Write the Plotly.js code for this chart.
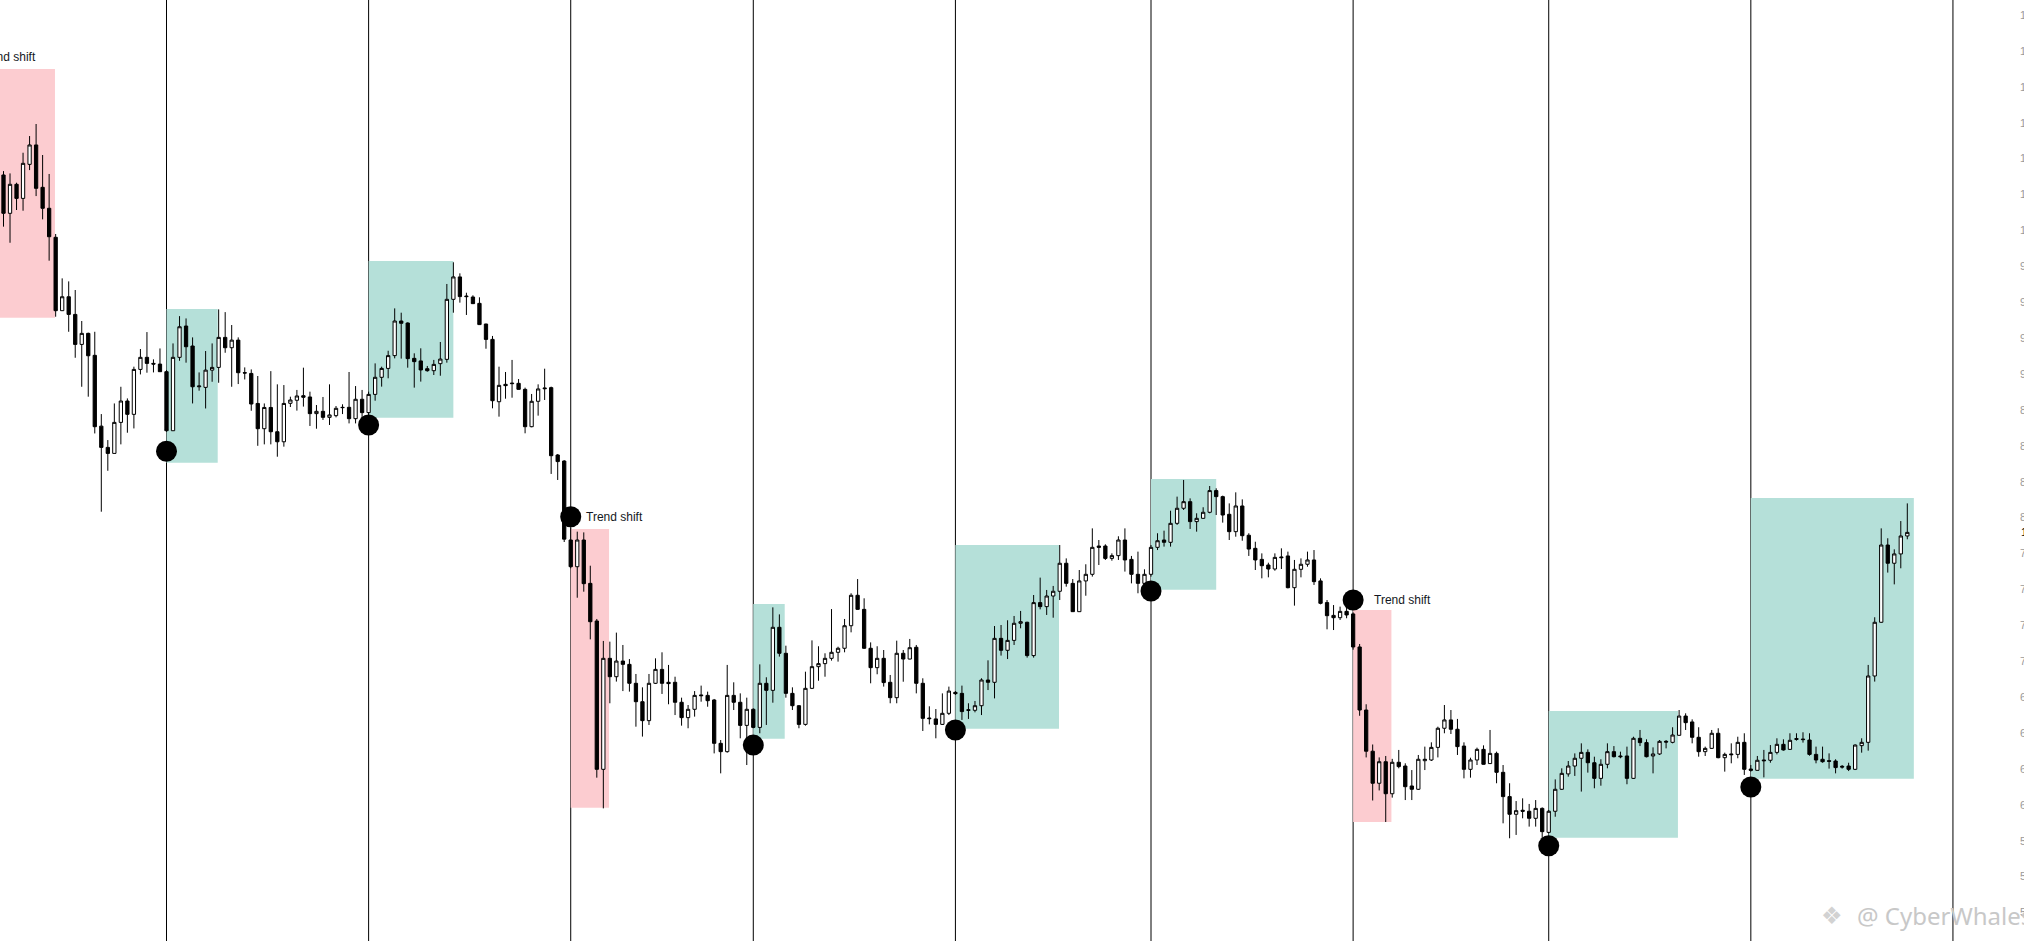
<!DOCTYPE html>
<html>
<head>
<meta charset="utf-8">
<script src="https://cdn.plot.ly/plotly-3.0.1.min.js"></script>
<style>
html,body{margin:0;padding:0;background:#ffffff;overflow:hidden}
#chart{width:2024px;height:941px}
</style>
</head>
<body>
<div id="chart"></div>
<script>
// ---- Daily candles, rows are [open, high, low, close] ----
const nov22 = [ // Nov 6 - Nov 30, 2022
[10.386,10.413,10.026,10.119],[10.119,10.397,9.914,10.321],[10.321,10.332,10.142,10.223],
[10.223,10.541,10.137,10.467],[10.460,10.657,10.420,10.595],[10.595,10.741,10.239,10.293],
[10.300,10.525,10.077,10.154],[10.154,10.393,9.789,9.956],[9.952,9.975,9.399,9.441],
[9.441,9.666,9.441,9.538],[9.538,9.645,9.294,9.415],[9.415,9.585,9.113,9.206],
[9.206,9.369,8.911,9.283],[9.283,9.288,8.842,9.127],[9.130,9.294,8.586,8.633],
[8.637,8.721,8.041,8.489],[8.489,8.540,8.326,8.447],[8.447,8.795,8.447,8.663],
[8.663,8.911,8.510,8.812],[8.812,8.830,8.591,8.719],[8.719,9.051,8.621,9.032],
[9.032,9.174,8.997,9.116],[9.116,9.292,9.009,9.074],[9.074,9.102,9.011,9.069],
[9.069,9.178,9.016,9.016]
];
const dec22 = [
[9.016,9.027,8.598,8.605],[8.605,9.213,8.605,9.116],[9.116,9.403,9.092,9.329],
[9.334,9.387,9.079,9.190],[9.195,9.255,8.795,8.911],[8.911,9.011,8.884,8.916],
[8.907,9.160,8.760,9.027],[9.027,9.213,8.946,9.046],[9.046,9.450,8.939,9.255],
[9.255,9.431,9.148,9.183],[9.183,9.341,8.911,9.236],[9.236,9.255,8.930,9.009],
[9.009,9.046,8.962,9.007],[9.004,9.032,8.744,8.791],[8.795,8.986,8.500,8.619],
[8.619,8.795,8.510,8.767],[8.767,9.020,8.510,8.598],[8.598,8.928,8.424,8.528],
[8.528,8.923,8.494,8.795],[8.796,8.842,8.770,8.819],[8.817,8.889,8.745,8.847],
[8.849,9.044,8.773,8.838],[8.840,8.877,8.638,8.724],[8.724,8.784,8.619,8.740],
[8.740,8.840,8.680,8.698],[8.698,8.928,8.645,8.715],[8.710,8.777,8.698,8.761],
[8.768,8.789,8.721,8.766],[8.768,9.014,8.656,8.689],[8.689,8.916,8.656,8.824],
[8.824,8.889,8.691,8.731]
];
const jan23 = [
[8.731,8.877,8.715,8.858],[8.858,9.074,8.814,8.977],[8.977,9.051,8.912,9.039],
[9.039,9.162,8.970,9.128],[9.128,9.457,9.109,9.369],[9.369,9.427,9.107,9.353],
[9.355,9.360,9.044,9.107],[9.109,9.144,8.905,9.086],[9.091,9.179,8.947,9.028],
[9.037,9.056,9.016,9.023],[9.023,9.098,8.993,9.067],[9.072,9.223,8.988,9.104],
[9.102,9.627,9.079,9.520],[9.520,9.778,9.427,9.676],[9.676,9.701,9.497,9.539],
[9.543,9.566,9.411,9.539],[9.536,9.548,9.487,9.490],[9.492,9.534,9.341,9.344],
[9.348,9.350,9.176,9.241],[9.241,9.265,8.761,8.814],[8.807,9.051,8.703,8.921],
[8.928,9.014,8.828,8.919],[8.937,9.098,8.835,8.933],[8.935,8.965,8.891,8.893],
[8.893,8.905,8.587,8.633],[8.633,8.861,8.629,8.810],[8.810,8.928,8.710,8.896],
[8.903,9.037,8.819,8.898],[8.905,8.912,8.304,8.431],[8.436,8.443,8.262,8.390],
[8.394,8.400,7.830,7.850]
];
const feb23 = [
[7.844,7.925,7.647,7.658],[7.658,7.902,7.442,7.844],[7.844,7.897,7.484,7.540],
[7.542,7.665,7.152,7.275],[7.280,7.294,6.189,6.247],[6.247,7.141,5.975,7.020],
[7.020,7.136,6.707,6.892],[6.892,7.199,6.858,7.001],[7.001,7.113,6.792,6.978],
[6.978,7.015,6.788,6.846],[6.846,6.911,6.544,6.718],[6.718,6.818,6.475,6.586],
[6.586,6.911,6.556,6.846],[6.846,7.020,6.841,6.943],[6.943,7.062,6.772,6.846],
[6.853,6.974,6.700,6.844],[6.853,6.892,6.625,6.714],[6.714,6.746,6.551,6.607],
[6.607,6.695,6.533,6.665],[6.665,6.792,6.614,6.762],[6.765,6.830,6.718,6.760],
[6.762,6.788,6.683,6.725],[6.730,6.737,6.358,6.428],[6.428,6.451,6.219,6.370],
[6.370,6.974,6.363,6.762],[6.762,6.853,6.660,6.714],[6.714,6.776,6.463,6.553],
[6.553,6.746,6.277,6.665]
];
const mar23 = [
[6.665,6.672,6.533,6.539],[6.539,6.978,6.498,6.846],[6.846,6.888,6.556,6.797],
[6.797,7.375,6.711,7.236],[7.236,7.326,7.032,7.055],[7.055,7.108,6.746,6.776],
[6.776,6.818,6.660,6.690],[6.690,6.695,6.533,6.560],[6.560,6.927,6.551,6.811],
[6.811,7.145,6.806,6.962],[6.962,7.104,6.864,6.983],[6.983,7.055,6.892,7.020],
[7.020,7.363,7.004,7.062],[7.062,7.101,6.997,7.090],[7.090,7.294,7.062,7.247],
[7.247,7.473,7.201,7.459],[7.459,7.572,7.357,7.361],[7.361,7.438,7.085,7.090],
[7.090,7.131,6.846,6.955],[6.955,7.104,6.909,7.020],[7.020,7.078,6.823,6.851],
[6.853,6.904,6.707,6.746],[6.746,7.143,6.707,7.055],[7.055,7.078,6.857,7.015],
[7.015,7.155,7.013,7.094],[7.097,7.113,6.776,6.846],[6.846,6.881,6.514,6.602],
[6.604,6.686,6.560,6.600],[6.598,6.667,6.463,6.560],[6.560,6.776,6.556,6.637],
[6.637,6.823,6.625,6.792]
];
const apr23 = [
[6.783,6.792,6.765,6.774],[6.776,6.830,6.591,6.649],[6.662,6.707,6.598,6.658],
[6.658,6.723,6.644,6.690],[6.690,6.881,6.625,6.869],[6.869,7.006,6.799,6.853],
[6.853,7.245,6.741,7.159],[7.159,7.252,7.039,7.076],[7.076,7.285,7.015,7.145],
[7.145,7.315,7.113,7.264],[7.264,7.350,7.229,7.275],[7.271,7.275,7.025,7.039],
[7.039,7.461,7.025,7.408],[7.408,7.582,7.361,7.380],[7.380,7.496,7.322,7.454],
[7.454,7.524,7.303,7.487],[7.487,7.809,7.426,7.682],[7.682,7.716,7.519,7.542],
[7.542,7.572,7.345,7.345],[7.345,7.635,7.345,7.559],[7.559,7.675,7.456,7.605],
[7.605,7.925,7.589,7.793],[7.802,7.844,7.670,7.793],[7.802,7.814,7.705,7.716],
[7.716,7.751,7.700,7.735],[7.735,7.870,7.705,7.844],[7.844,7.925,7.624,7.705],
[7.709,7.733,7.542,7.605],[7.605,7.763,7.473,7.542],[7.542,7.640,7.531,7.605]
];
const may23 = [
[7.605,7.809,7.589,7.793],[7.793,7.891,7.774,7.839],[7.844,7.909,7.798,7.828],
[7.828,8.048,7.798,7.960],[7.960,8.146,7.949,8.065],[8.065,8.262,8.053,8.111],
[8.111,8.134,7.921,7.972],[7.972,8.030,7.902,7.995],[7.995,8.072,7.993,8.037],
[8.037,8.220,8.030,8.188],[8.188,8.204,8.018,8.146],[8.146,8.153,7.965,8.018],
[8.023,8.099,7.844,7.902],[7.902,8.176,7.867,8.081],[8.081,8.127,7.839,7.874],
[7.877,7.891,7.733,7.781],[7.786,7.832,7.635,7.705],[7.709,7.751,7.577,7.665],
[7.670,7.686,7.584,7.642],[7.642,7.751,7.630,7.723],[7.726,7.786,7.642,7.721],
[7.733,7.763,7.507,7.512],[7.512,7.705,7.387,7.640],[7.640,7.716,7.584,7.675],
[7.675,7.763,7.658,7.705],[7.705,7.774,7.531,7.554],[7.559,7.577,7.396,7.403],
[7.408,7.426,7.222,7.317],[7.319,7.391,7.217,7.303],[7.303,7.380,7.287,7.347],
[7.347,7.384,7.299,7.322]
];
const jun23 = [
[7.329,7.340,7.080,7.099],[7.099,7.120,6.620,6.660],[6.660,6.700,6.330,6.373],
[6.373,6.420,6.030,6.150],[6.150,6.330,6.100,6.300],[6.300,6.340,5.880,6.077],
[6.077,6.320,6.050,6.296],[6.296,6.382,6.254,6.266],[6.270,6.289,6.033,6.126],
[6.131,6.242,6.033,6.108],[6.108,6.347,6.103,6.317],[6.307,6.405,6.242,6.317],
[6.312,6.435,6.305,6.400],[6.400,6.544,6.330,6.533],[6.533,6.695,6.498,6.591],
[6.591,6.660,6.493,6.526],[6.526,6.598,6.347,6.405],[6.409,6.435,6.184,6.247],
[6.247,6.328,6.189,6.312],[6.312,6.398,6.277,6.386],[6.386,6.414,6.280,6.282],
[6.287,6.521,6.287,6.358],[6.358,6.370,6.150,6.226],[6.226,6.277,5.871,6.057],
[6.057,6.150,5.767,5.934],[5.934,6.026,5.790,5.959],[5.962,6.045,5.906,5.955],
[5.955,6.006,5.848,5.906],[5.906,6.033,5.848,5.975],[5.975,5.982,5.767,5.813]
];
const jul23 = [
[5.808,5.964,5.801,5.955],[5.955,6.177,5.917,6.108],[6.108,6.254,6.103,6.219],
[6.215,6.305,6.196,6.270],[6.270,6.358,6.201,6.324],[6.324,6.428,6.092,6.365],
[6.365,6.386,6.224,6.293],[6.293,6.335,6.115,6.184],[6.184,6.317,6.133,6.282],
[6.282,6.428,6.254,6.370],[6.370,6.409,6.330,6.335],[6.340,6.370,6.324,6.335],
[6.340,6.405,6.143,6.184],[6.184,6.474,6.180,6.463],[6.463,6.521,6.409,6.433],
[6.433,6.456,6.330,6.335],[6.340,6.400,6.219,6.354],[6.354,6.451,6.347,6.442],
[6.442,6.451,6.393,6.437],[6.435,6.540,6.428,6.486],[6.484,6.660,6.481,6.618],
[6.618,6.637,6.521,6.572],[6.577,6.595,6.428,6.470],[6.470,6.540,6.335,6.370],
[6.370,6.405,6.340,6.393],[6.393,6.521,6.389,6.498],[6.498,6.533,6.324,6.328],
[6.328,6.363,6.231,6.351],[6.354,6.428,6.289,6.349],[6.351,6.474,6.324,6.435],
[6.435,6.498,6.208,6.247]
];
const aug23 = [ // Aug 1 - Aug 25, 2023
[6.249,6.277,6.231,6.240],[6.240,6.340,6.238,6.310],[6.312,6.382,6.191,6.307],
[6.310,6.416,6.293,6.365],[6.365,6.463,6.351,6.421],[6.421,6.456,6.377,6.382],
[6.386,6.498,6.382,6.449],[6.461,6.498,6.447,6.456],[6.458,6.505,6.433,6.454],
[6.451,6.498,6.342,6.351],[6.351,6.405,6.289,6.312],[6.317,6.405,6.293,6.300],
[6.307,6.358,6.252,6.303],[6.305,6.317,6.219,6.259],[6.268,6.277,6.252,6.263],
[6.270,6.293,6.235,6.247],[6.247,6.421,6.242,6.416],[6.412,6.463,6.363,6.435],
[6.435,6.974,6.377,6.897],[6.897,7.306,6.858,7.271],[7.271,7.925,7.268,7.809],
[7.809,7.856,7.617,7.682],[7.682,7.779,7.535,7.747],[7.747,7.976,7.647,7.872],
[7.872,8.099,7.849,7.897]
];
const monthRows   = [nov22, dec22, jan23, feb23, mar23, apr23, may23, jun23, jul23, aug23];
const monthFirst  = ['2022-11-06','2022-12-01','2023-01-01','2023-02-01','2023-03-01',
                     '2023-04-01','2023-05-01','2023-06-01','2023-07-01','2023-08-01'];

// ---- Month separators ----
const monthLines = ['2022-12-01','2023-01-01','2023-02-01','2023-03-01','2023-04-01',
                    '2023-05-01','2023-06-01','2023-07-01','2023-08-01','2023-09-01'];

// ---- Zones (shaded boxes) ----
const zoneStart  = ['2022-10-31','2022-12-01','2023-01-01','2023-02-01','2023-03-01',
                    '2023-04-01','2023-05-01','2023-06-01','2023-07-01','2023-08-01'];
const zoneEnd    = ['2022-11-13 21:30','2022-12-08 20:30','2023-01-14','2023-02-06 21:00','2023-03-05 19:40',
                    '2023-04-16 21:20','2023-05-11','2023-06-06 21:00','2023-07-20 19:40','2023-08-26'];
const zoneTop    = [11.124, 9.453, 9.787, 7.921, 7.398, 7.809, 8.269, 7.357, 6.653, 8.137];
const zoneBottom = [ 9.392, 8.382, 8.696, 5.980, 6.460, 6.530, 7.498, 5.880, 5.771, 6.182];
const zoneSide   = ['bear','bull','bull','bear','bull','bull','bull','bear','bull','bull'];

// ---- Pivot dots ----
const dotDates  = ['2022-12-01','2023-01-01','2023-02-01','2023-03-01','2023-04-01',
                   '2023-05-01','2023-06-01','2023-07-01','2023-08-01'];
const dotPrices = [8.462, 8.645, 8.006, 6.416, 6.521, 7.489, 7.426, 5.715, 6.124];

// ---- "Trend shift" labels ----
const shiftLabel   = 'Trend shift';
const shiftDates   = ['2023-02-01','2023-06-01'];
const shiftPrices  = [8.006, 7.426];
const firstShiftPrice = 11.211;   // label of a shift just left of the visible window

const lastPriceLabel = '1';
const watermark = '@ CyberWhales';

// ---- build the series ----
const dates = [], o = [], h = [], l = [], c = [];
monthRows.forEach((rows, m) => {
  const t0 = Date.parse(monthFirst[m] + 'T00:00:00Z');
  rows.forEach((r, i) => {
    dates.push(new Date(t0 + i * 86400000).toISOString().slice(0, 10));
    o.push(r[0]); h.push(r[1]); l.push(r[2]); c.push(r[3]);
  });
});

const candles = {
  type: 'candlestick', x: dates, open: o, high: h, low: l, close: c,
  increasing: {line: {color: '#000000', width: 1}, fillcolor: '#ffffff'},
  decreasing: {line: {color: '#000000', width: 1}, fillcolor: '#000000'},
  whiskerwidth: 0, hoverinfo: 'skip', showlegend: false
};
const dots = {
  type: 'scatter', mode: 'markers', x: dotDates, y: dotPrices,
  marker: {color: '#000000', size: 21, line: {width: 0}},
  hoverinfo: 'skip', showlegend: false
};

const shapes = [];
zoneStart.forEach((s, i) => {
  shapes.push({type: 'rect', xref: 'x', yref: 'y', x0: s, x1: zoneEnd[i],
    y0: zoneBottom[i], y1: zoneTop[i], layer: 'below', line: {width: 0},
    fillcolor: zoneSide[i] === 'bull' ? 'rgb(181,224,217)' : 'rgb(252,204,208)'});
});
monthLines.forEach(d => {
  shapes.push({type: 'line', xref: 'x', yref: 'paper', x0: d, x1: d, y0: 0, y1: 1,
    layer: 'below', line: {color: '#000000', width: 1}});
});

const labelFont = {family: 'Liberation Sans, Arial, sans-serif', size: 12, color: '#131722'};
const shiftShift = [13.5, 18.5];
const annotations = [];
annotations.push({xref: 'paper', yref: 'y', x: 0, y: firstShiftPrice, xanchor: 'left', yanchor: 'middle',
  xshift: -23, text: shiftLabel, showarrow: false, font: labelFont});
shiftDates.forEach((d, i) => {
  annotations.push({xref: 'x', yref: 'y', x: d, y: shiftPrices[i], xanchor: 'left', yanchor: 'middle',
    xshift: shiftShift[i], text: shiftLabel, showarrow: false, font: labelFont});
});
annotations.push({xref: 'paper', yref: 'y', x: 1, y: c[c.length - 1], xanchor: 'left', yanchor: 'middle',
  xshift: 3, text: lastPriceLabel, showarrow: false,
  font: {family: 'Liberation Sans, Arial, sans-serif', size: 11, color: '#000000'}});
annotations.push({xref: 'paper', yref: 'paper', x: 0.9201, y: 0.027, xanchor: 'left', yanchor: 'middle',
  text: watermark, showarrow: false,
  font: {family: 'Noto Sans, DejaVu Sans, sans-serif', size: 24, color: '#c8c8c8'}});
annotations.push({xref: 'paper', yref: 'paper', x: 0.9085, y: 0.027, xanchor: 'center', yanchor: 'middle',
  text: '❖', showarrow: false,
  font: {family: 'DejaVu Sans, sans-serif', size: 24, color: '#d2d2d2'}});

const layout = {
  width: 2024, height: 941,
  margin: {l: 0, r: 8, t: 0, b: 0, pad: 0},
  paper_bgcolor: '#ffffff', plot_bgcolor: '#ffffff',
  showlegend: false, hovermode: false, boxgap: 0.28,
  xaxis: {type: 'date', range: ['2022-11-05 11:07', '2023-09-10 16:05'], visible: false,
          rangeslider: {visible: false}, fixedrange: true},
  yaxis: {side: 'right', range: [5.0515, 11.6045], tick0: 0, dtick: 0.25, tickformat: '.2f',
          showgrid: false, zeroline: false, showline: false, ticks: '', ticklabelstandoff: 3,
          tickfont: {family: 'Liberation Sans, Arial, sans-serif', size: 11, color: '#9a9a9a'},
          fixedrange: true},
  shapes: shapes, annotations: annotations
};

Plotly.newPlot('chart', [candles, dots], layout, {staticPlot: true, displayModeBar: false});
</script>
</body>
</html>
